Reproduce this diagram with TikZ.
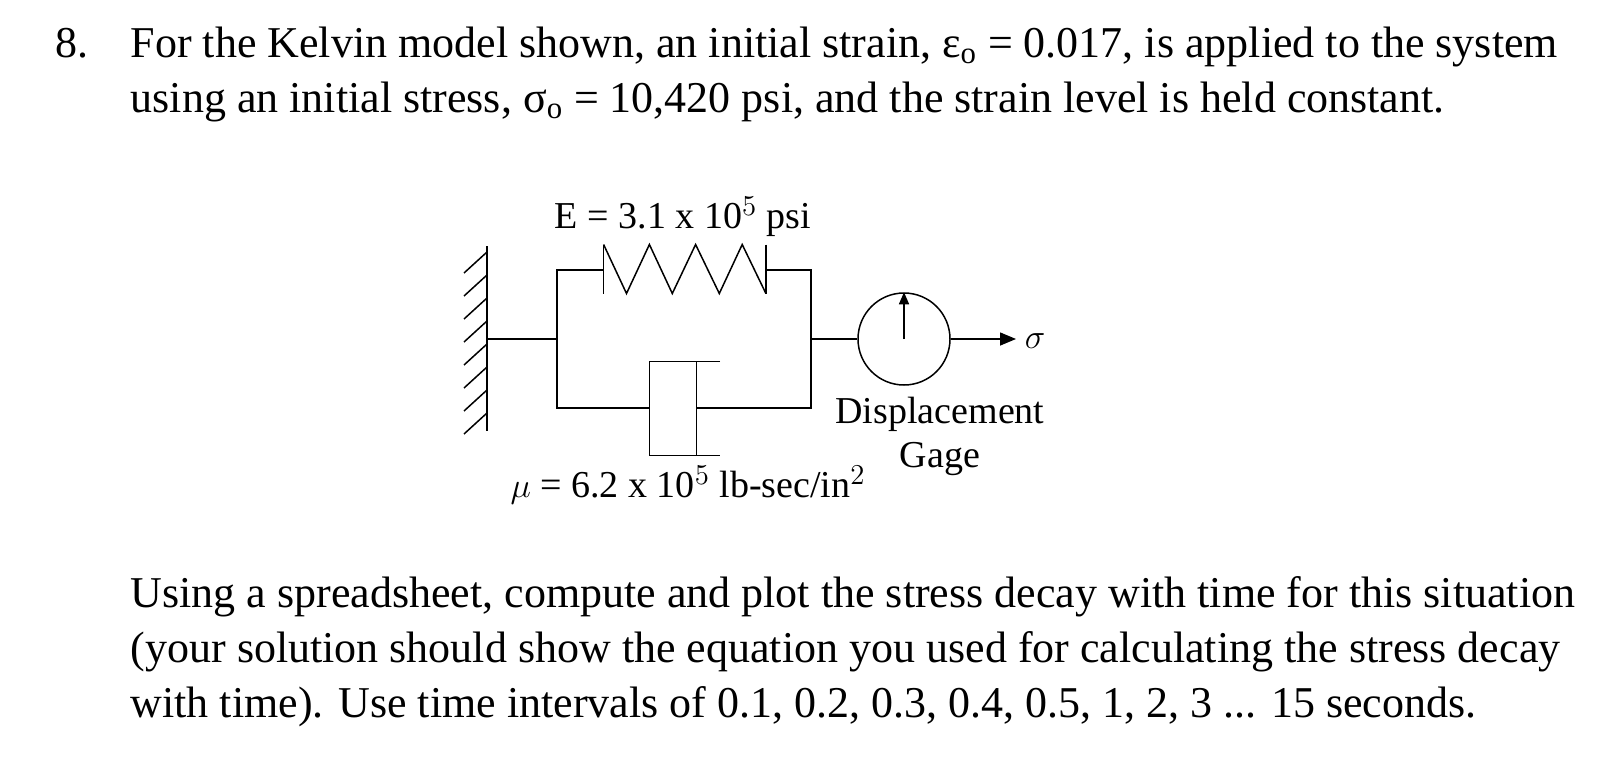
\documentclass[tikz,border=0pt]{standalone}
\usepackage{fontspec}
\setmainfont{Liberation Serif}
\usetikzlibrary{arrows.meta}
\begin{document}
\begin{tikzpicture}[x=0.5pt,y=-0.5pt,line width=0.75pt,
  body/.style={anchor=base west,inner sep=0pt,font=\fontsize{22}{26}\selectfont},
  lbl/.style={inner sep=0pt,font=\fontsize{19}{23}\selectfont}]
\useasboundingbox (0,0) rectangle (1616,771);
% text
\node[body] (n8) at (55,57) {8.};
\node[body] (l1) at (130,57) {For the Kelvin model shown, an initial strain, ε$_{\mathrm o}$ = 0.017, is applied to the system};
\node[body] (l2) at (130,112) {using an initial stress, σ$_{\mathrm o}$ = 10,420 psi, and the strain level is held constant.};
\node[body] (l3) at (130,607) {Using a spreadsheet, compute and plot the stress decay with time for this situation};
\node[body] (l4) at (130,662) {(your solution should show the equation you used for calculating the stress decay};
\node[body] (l5) at (130,717) {with time). Use time intervals of 0.1, 0.2, 0.3, 0.4, 0.5, 1, 2, 3 ... 15 seconds.};
% wall
\coordinate (wt) at (487,246);
\coordinate (wb) at (487,431);
\draw (wt) -- (wb);
\foreach \y in {252,275,298,321,344,367,390,413}
  \draw (487,\y) -- ++(-23,21);
% connection
\coordinate (wm) at (487,339);
\coordinate (rl) at (557,339);
\coordinate (rr) at (811,339);
\draw (wm) -- (rl);
\draw (rl) -- (557,270) -- (603.6,270);
\draw (765.9,270) -- (811,270) -- (811,408) -- (696.4,408);
\draw (649.4,408) -- (557,408) -- (rl);
% spring
\draw (603.6,244.5) -- (603.6,293.5);
\draw (765.9,244.5) -- (765.9,293.5);
\draw (603.6,244.5) -- (626.5,293.5) -- (649.4,244.5) -- (672.3,293.5) -- (695.6,244.5) -- (719.3,293.5) -- (742.2,244.5) -- (765.9,293.5);
% dashpot
\draw (720.1,361.5) -- (649.4,361.5) -- (649.4,455.6) -- (720.1,455.6);
\draw (696.4,361.5) -- (696.4,455.6);
% gage
\node[circle,draw,minimum size=46pt,inner sep=0pt] (g) at (904,339) {};
\draw (rr) -- (g.west);
\draw[-{Triangle[length=6pt,width=5pt]}] (g.center) -- (g.north);
\coordinate (ae) at (1016,339);
\draw[-{Triangle[length=8pt,width=6.5pt]}] (g.east) -- (ae);
\node[lbl,anchor=west] (sig) at (1024,341) {$\sigma$};
% labels
\node[lbl,anchor=base] (E) at (683,228) {E = 3.1 x 10$^5$ psi};
\node[lbl,anchor=base] (mu) at (688,497) {$\mu$ = 6.2 x 10$^5$ lb-sec/in$^2$};
\node[lbl,anchor=base] (d1) at (940,423) {Displacement};
\node[lbl,anchor=base] (d2) at (940,467) {Gage};
\end{tikzpicture}
\end{document}
